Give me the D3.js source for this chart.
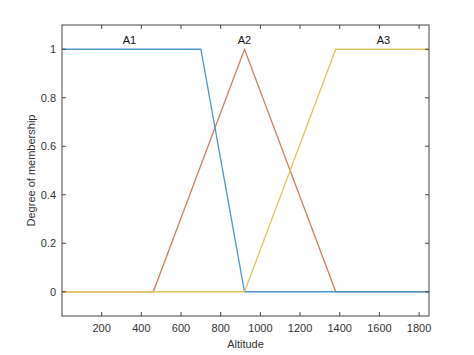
<!DOCTYPE html>
<html><head><meta charset="utf-8">
<script src="https://cdn.jsdelivr.net/npm/d3@7"></script>
<style>body{margin:0;background:#fff}svg{display:block}text{font-family:"Liberation Sans",Arial,sans-serif}</style>
</head><body><svg id="c" width="474" height="355"></svg>
<script>
const xTicks = [200,400,600,800,1000,1200,1400,1600,1800];
const yTicks = [0,0.2,0.4,0.6,0.8,1];
const a1X = [0,700,920,1850];   const a1Y = [1,1,0,0];
const a2X = [0,460,920,1380,1850]; const a2Y = [0,0,1,0,0];
const a3X = [0,920,1380,1850];  const a3Y = [0,0,1,1];
const seriesNames = ["A1","A2","A3"];
const labelX = [340,920,1620];
const colors = ["#4a98c4","#c7825e","#e2c560"];

const svg = d3.select("#c");
const L=62,R=429,T=25,B=316;
const x = d3.scaleLinear().domain([0,1850]).range([L,R]);
const y = d3.scaleLinear().domain([-0.1,1.1]).range([B,T]);

const series = [[a1X,a1Y],[a2X,a2Y],[a3X,a3Y]];
const line = d3.line().x(d=>x(d[0])).y(d=>y(d[1]));
[1,0,2].forEach(i=>{
  const pts = series[i][0].map((v,k)=>[v,series[i][1][k]]);
  svg.append("path").attr("d",line(pts)).attr("fill","none")
    .attr("stroke",colors[i]).attr("stroke-width",1.3);
});

const g=svg.append("g");
g.append("rect").attr("x",L).attr("y",T).attr("width",R-L).attr("height",B-T)
  .attr("fill","none").attr("stroke","#444").attr("stroke-width",1);
xTicks.forEach(t=>{
  g.append("line").attr("x1",x(t)).attr("x2",x(t)).attr("y1",B).attr("y2",B-4).attr("stroke","#444");
  g.append("line").attr("x1",x(t)).attr("x2",x(t)).attr("y1",T).attr("y2",T+4).attr("stroke","#444");
  g.append("text").attr("x",x(t)).attr("y",B+16).attr("text-anchor","middle")
    .attr("font-size",11).attr("fill","#333").text(t);
});
yTicks.forEach(t=>{
  g.append("line").attr("x1",L).attr("x2",L+4).attr("y1",y(t)).attr("y2",y(t)).attr("stroke","#444");
  g.append("line").attr("x1",R).attr("x2",R-4).attr("y1",y(t)).attr("y2",y(t)).attr("stroke","#444");
  g.append("text").attr("x",L-6).attr("y",y(t)+4).attr("text-anchor","end")
    .attr("font-size",11).attr("fill","#333").text(d3.format("")(t));
});
seriesNames.forEach((n,i)=>{
  svg.append("text").attr("x",x(labelX[i])).attr("y",44).attr("text-anchor","middle")
    .attr("font-size",11).attr("fill","#111").text(n);
});
svg.append("text").attr("x",(L+R)/2).attr("y",348).attr("text-anchor","middle")
  .attr("font-size",11).attr("fill","#333").text("Altitude");
svg.append("text").attr("transform","translate(35,"+((T+B)/2)+") rotate(-90)")
  .attr("text-anchor","middle").attr("font-size",11).attr("fill","#333").text("Degree of membership");
</script></body></html>
